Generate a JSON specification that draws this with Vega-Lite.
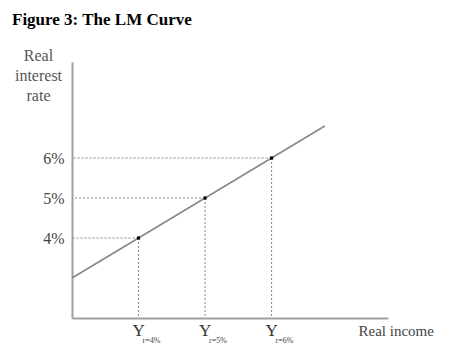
{
  "$schema": "https://vega.github.io/schema/vega-lite/v6.json",
  "width": 316,
  "height": 256,
  "autosize": "none",
  "padding": {"left": 72, "top": 62, "right": 86, "bottom": 38},
  "background": "white",
  "config": {"view": {"stroke": null}, "font": "Liberation Serif"},
  "title": {
    "text": "Figure 3: The LM Curve",
    "anchor": "start",
    "frame": "group",
    "dx": -60,
    "offset": 5,
    "baseline": "alphabetic",
    "font": "Liberation Serif",
    "fontSize": 17,
    "fontWeight": "bold",
    "color": "black"
  },
  "datasets": {
    "curve": [{"Y": 0, "r": 3}, {"Y": 3.8, "r": 6.8}],
    "pts": [
      {"Y": 1, "r": 4, "sub": "r=4%"},
      {"Y": 2, "r": 5, "sub": "r=5%"},
      {"Y": 3, "r": 6, "sub": "r=6%"}
    ]
  },
  "layer": [
    {
      "data": {"name": "pts"},
      "mark": {"type": "rule", "color": "#888", "strokeWidth": 1, "strokeDash": [2, 2]},
      "encoding": {
        "x": {"field": "Y", "type": "quantitative", "scale": {"domain": [0, 4.75], "nice": false, "zero": false},
          "axis": {"labels": false, "ticks": false, "grid": false, "domainColor": "#a0a0a0", "domainWidth": 2,
            "title": "Real income", "titleFont": "Liberation Serif", "titleFontSize": 15, "titleFontWeight": "normal",
            "titleColor": "#444", "titleAlign": "left", "titleAnchor": "start", "titleX": 286, "titleY": 17, "titleBaseline": "alphabetic"}},
        "x2": {"datum": 0},
        "y": {"field": "r", "type": "quantitative", "scale": {"domain": [2, 8.4], "nice": false, "zero": false},
          "axis": {"values": [4, 5, 6], "labelExpr": "datum.value + '%'", "ticks": false, "grid": false,
            "domainColor": "#a0a0a0", "domainWidth": 2, "labelFont": "Liberation Serif", "labelFontSize": 16,
            "labelColor": "#444", "labelPadding": 8,
            "title": ["Real", "interest", "rate"], "titleAngle": 0, "titleAlign": "center", "titleBaseline": "alphabetic",
            "titleX": -34, "titleY": -2, "titleLineHeight": 20, "titleFont": "Liberation Serif", "titleFontSize": 16,
            "titleFontWeight": "normal", "titleColor": "#555"}}
      }
    },
    {
      "data": {"name": "pts"},
      "mark": {"type": "rule", "color": "#888", "strokeWidth": 1, "strokeDash": [2, 2]},
      "encoding": {
        "x": {"field": "Y", "type": "quantitative"},
        "y": {"field": "r", "type": "quantitative"},
        "y2": {"datum": 2}
      }
    },
    {
      "data": {"name": "curve"},
      "mark": {"type": "line", "color": "#888", "strokeWidth": 1.6},
      "encoding": {
        "x": {"field": "Y", "type": "quantitative"},
        "y": {"field": "r", "type": "quantitative"}
      }
    },
    {
      "data": {"name": "pts"},
      "mark": {"type": "point", "shape": "square", "filled": true, "color": "black", "size": 10, "opacity": 1},
      "encoding": {
        "x": {"field": "Y", "type": "quantitative"},
        "y": {"field": "r", "type": "quantitative"}
      }
    },
    {
      "data": {"name": "pts"},
      "mark": {"type": "text", "text": "Y", "font": "Liberation Serif", "fontSize": 17, "color": "#333", "baseline": "alphabetic", "align": "center", "dy": 18},
      "encoding": {
        "x": {"field": "Y", "type": "quantitative"},
        "y": {"datum": 2, "type": "quantitative"}
      }
    },
    {
      "data": {"name": "pts"},
      "mark": {"type": "text", "font": "Liberation Serif", "fontSize": 8, "color": "#444", "baseline": "alphabetic", "align": "left", "dx": 4, "dy": 25},
      "encoding": {
        "x": {"field": "Y", "type": "quantitative"},
        "y": {"datum": 2, "type": "quantitative"},
        "text": {"field": "sub"}
      }
    }
  ]
}
